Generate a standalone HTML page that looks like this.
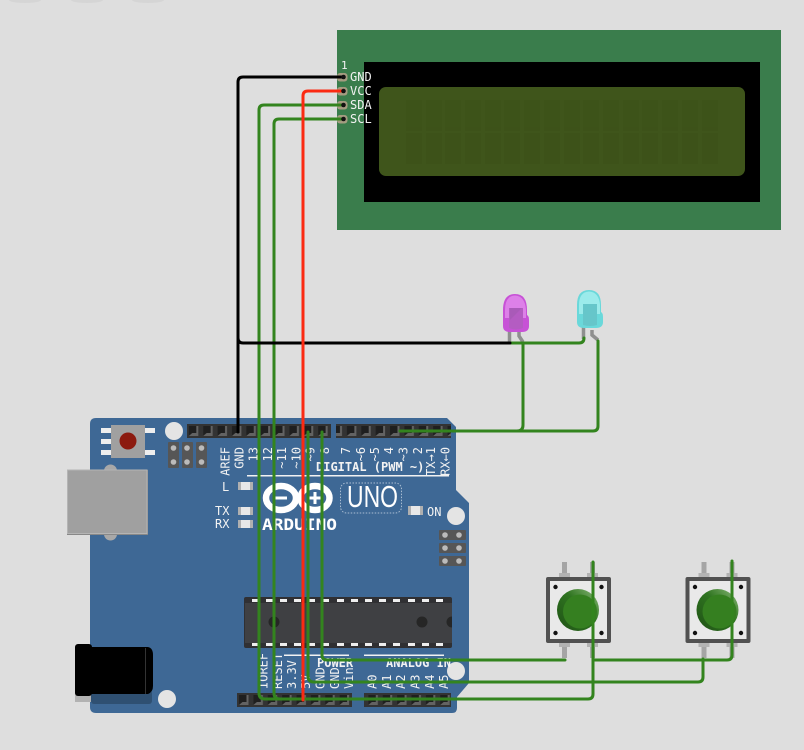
<!DOCTYPE html>
<html><head><meta charset="utf-8"><style>
html,body{margin:0;padding:0;background:#dedede;width:804px;height:750px;overflow:hidden}
svg{display:block}
.m{font-family:"DejaVu Sans Mono","Liberation Mono",monospace;font-size:12px;fill:#f2f2f2}
</style></head><body>
<svg width="804" height="750" viewBox="0 0 804 750" xmlns="http://www.w3.org/2000/svg">
<defs>
<pattern id="hp" x="186.3" y="424" width="14.37" height="14" patternUnits="userSpaceOnUse">
<rect x="2.500" y="2" width="9.500" height="10" fill="#636363"/><rect x="2.500" y="2" width="7.500" height="7" fill="#1f1f1f"/><path d="M2.500 12L6 9H2.500Z" fill="#1f1f1f"/>
</pattern>
<pattern id="hq" x="236.5" y="693" width="14.37" height="14" patternUnits="userSpaceOnUse">
<rect x="2.500" y="2" width="9.500" height="10" fill="#636363"/><rect x="2.500" y="2" width="7.500" height="7" fill="#1f1f1f"/><path d="M2.500 12L6 9H2.500Z" fill="#1f1f1f"/>
</pattern>
<linearGradient id="bg" x1="0.150" y1="0.850" x2="0.850" y2="0.150">
<stop offset="0" stop-color="#235a18"/><stop offset=".6" stop-color="#2f7420"/><stop offset="1" stop-color="#6da35c"/>
</linearGradient>
<g id="btn">
<rect x="16" y="0" width="5" height="15" fill="#a5a5a5"/><rect x="44" y="0" width="5" height="15" fill="#a5a5a5"/>
<rect x="13" y="11" width="11" height="5" fill="#b3b3b3"/><rect x="41" y="11" width="11" height="5" fill="#b3b3b3"/>
<rect x="16" y="80" width="5" height="16" fill="#a5a5a5"/><rect x="44" y="80" width="5" height="16" fill="#a5a5a5"/>
<rect x="13" y="80" width="11" height="5" fill="#b3b3b3"/><rect x="41" y="80" width="11" height="5" fill="#b3b3b3"/>
<rect x="0" y="15" width="65" height="66" rx="2" fill="#515151"/>
<rect x="4" y="19" width="57" height="58" fill="#e9e9e9"/>
<circle cx="9.500" cy="25" r="2.200" fill="#111"/><circle cx="55.500" cy="25" r="2.200" fill="#111"/>
<circle cx="9.500" cy="71" r="2.200" fill="#111"/><circle cx="55.500" cy="71" r="2.200" fill="#111"/>
<circle cx="32" cy="48" r="21" fill="url(#bg)"/>
<circle cx="34" cy="49.500" r="17" fill="#357f20"/>
</g>
</defs>

<g fill="#d5d5d5"><ellipse cx="25" cy="0" rx="16" ry="3"/><ellipse cx="87" cy="0" rx="16" ry="3"/><ellipse cx="148" cy="0" rx="16" ry="3"/></g>

<!-- LCD -->
<rect x="337" y="30" width="444" height="200" fill="#3a7d4c"/>
<rect x="364" y="62" width="396" height="140" fill="#000"/>
<rect x="379" y="87" width="366" height="89" rx="7" fill="#3f551b"/>
<g fill="#3c5119" opacity=".6">
<path d="M406 100h16v31h-16zM426 100h16v31h-16zM445 100h16v31h-16zM465 100h16v31h-16zM485 100h16v31h-16zM504 100h16v31h-16zM524 100h16v31h-16zM544 100h16v31h-16zM564 100h16v31h-16zM583 100h16v31h-16zM603 100h16v31h-16zM623 100h16v31h-16zM642 100h16v31h-16zM662 100h16v31h-16zM682 100h16v31h-16zM702 100h16v31h-16z"/>
<path d="M406 133h16v31h-16zM426 133h16v31h-16zM445 133h16v31h-16zM465 133h16v31h-16zM485 133h16v31h-16zM504 133h16v31h-16zM524 133h16v31h-16zM544 133h16v31h-16zM564 133h16v31h-16zM583 133h16v31h-16zM603 133h16v31h-16zM623 133h16v31h-16zM642 133h16v31h-16zM662 133h16v31h-16zM682 133h16v31h-16zM702 133h16v31h-16z"/>
</g>
<g fill="#a49c80">
<rect x="337" y="73" width="10.500" height="8.500" rx="3"/><rect x="337" y="87" width="10.500" height="8.500" rx="3"/><rect x="337" y="101" width="10.500" height="8.500" rx="3"/><rect x="337" y="115" width="10.500" height="8.500" rx="3"/>
</g>
<text class="m" x="341" y="69" style="font-size:11px">1</text>
<text class="m" x="350" y="81">GND</text><text class="m" x="350" y="95">VCC</text><text class="m" x="350" y="109">SDA</text><text class="m" x="350" y="123">SCL</text>

<!-- Board -->
<path d="M96 418H447L456 427V490L469 503V683L457 697V708Q457 713 452 713H96Q90 713 90 707V424Q90 418 96 418Z" fill="#3e6895"/>
<circle cx="174" cy="431" r="9" fill="#e4e4e4"/><circle cx="167" cy="699" r="9" fill="#e4e4e4"/><circle cx="456" cy="516" r="9" fill="#e4e4e4"/><circle cx="456" cy="671" r="9" fill="#e4e4e4"/>

<!-- reset -->
<g fill="#eeeeee"><rect x="101" y="428" width="10" height="5"/><rect x="101" y="439" width="10" height="5"/><rect x="101" y="450" width="10" height="5"/><rect x="145" y="428" width="10" height="5"/><rect x="145" y="450" width="10" height="5"/></g>
<rect x="111" y="425" width="34" height="33" fill="#a0a0a0"/><circle cx="128" cy="441" r="8.500" fill="#8c1a0f"/>
<!-- ICSP -->
<g fill="#565656"><rect x="168" y="442" width="11" height="26" rx="1"/><rect x="182" y="442" width="11" height="26" rx="1"/><rect x="196" y="442" width="11" height="26" rx="1"/>
<rect x="439" y="530" width="27" height="10" rx="1"/><rect x="439" y="543" width="27" height="10" rx="1"/><rect x="439" y="556" width="27" height="10" rx="1"/></g>
<g fill="#bbbbbb"><circle cx="173.500" cy="448" r="2.800"/><circle cx="173.500" cy="462" r="2.800"/><circle cx="187" cy="448" r="2.800"/><circle cx="187" cy="462" r="2.800"/><circle cx="201.500" cy="448" r="2.800"/><circle cx="201.500" cy="462" r="2.800"/>
<circle cx="445" cy="535" r="2.800"/><circle cx="459" cy="535" r="2.800"/><circle cx="445" cy="548" r="2.800"/><circle cx="459" cy="548" r="2.800"/><circle cx="445" cy="561" r="2.800"/><circle cx="459" cy="561" r="2.800"/></g>
<!-- USB -->
<circle cx="110.500" cy="471" r="6.500" fill="#a8a8a8"/><circle cx="110.500" cy="534" r="6.500" fill="#a8a8a8"/>
<rect x="67" y="470" width="81" height="65" fill="#888"/>
<rect x="67.500" y="470" width="79.500" height="63.500" fill="#a0a0a0" stroke="#b4b4b4"/>
<!-- jack -->
<rect x="75" y="690" width="16" height="12" fill="#b2b2b2"/>
<rect x="91" y="690" width="61" height="14" rx="3" fill="#2f5072"/>
<rect x="75" y="644" width="17" height="52" rx="3" fill="#000"/>
<path d="M90 647H148Q153 648 153 655V686Q153 692 148 694H90Z" fill="#000"/>
<rect x="145" y="648" width="1" height="46" fill="#333"/>
<!-- headers -->
<rect x="187" y="424" width="144" height="14" fill="#333"/><rect x="187" y="424" width="144" height="14" fill="url(#hp)"/>
<rect x="336" y="424" width="115" height="14" fill="#333"/><rect x="336" y="424" width="115" height="14" fill="url(#hp)"/>
<rect x="237" y="693" width="115" height="14" fill="#333"/><rect x="237" y="693" width="115" height="14" fill="url(#hq)"/>
<rect x="364" y="693" width="87" height="14" fill="#333"/><rect x="364" y="693" width="87" height="14" fill="url(#hq)"/>
<!-- top labels -->
<g text-anchor="end">
<text class="m" transform="translate(229.500,447) rotate(-90)">AREF</text>
<text class="m" transform="translate(243.500,447) rotate(-90)">GND</text>
<text class="m" transform="translate(257.500,447) rotate(-90)">13</text>
<text class="m" transform="translate(272,447) rotate(-90)">12</text>
<text class="m" transform="translate(286,447) rotate(-90)">~11</text>
<text class="m" transform="translate(300.500,447) rotate(-90)">~10</text>
<text class="m" transform="translate(314.500,447) rotate(-90)">~9</text>
<text class="m" transform="translate(329,447) rotate(-90)">8</text>
<text class="m" transform="translate(350,447) rotate(-90)">7</text>
<text class="m" transform="translate(365,447) rotate(-90)">~6</text>
<text class="m" transform="translate(379,447) rotate(-90)">~5</text>
<text class="m" transform="translate(393,447) rotate(-90)">4</text>
<text class="m" transform="translate(407.500,447) rotate(-90)">~3</text>
<text class="m" transform="translate(422,447) rotate(-90)">2</text>
<text class="m" transform="translate(435,447) rotate(-90)">TX→1</text>
<text class="m" transform="translate(449.500,447) rotate(-90)">RX←0</text>
</g>
<text class="m" x="316" y="471" style="font-weight:bold">DIGITAL (PWM ~)</text>
<rect x="247" y="475" width="202" height="1.500" fill="#f2f2f2"/>
<text class="m" x="222" y="491">L</text><text class="m" x="215" y="515">TX</text><text class="m" x="215" y="528">RX</text><text class="m" x="427" y="516">ON</text>
<g fill="#e8e8e8"><rect x="238" y="482" width="15" height="8" rx="1"/><rect x="238" y="507" width="15" height="8" rx="1"/><rect x="238" y="520" width="15" height="8" rx="1"/><rect x="408" y="506" width="15" height="9" rx="1"/></g>
<g fill="#b0b0b0"><rect x="238" y="482" width="3" height="8"/><rect x="250" y="482" width="3" height="8"/><rect x="238" y="507" width="3" height="8"/><rect x="250" y="507" width="3" height="8"/><rect x="238" y="520" width="3" height="8"/><rect x="250" y="520" width="3" height="8"/><rect x="408" y="506" width="3" height="9"/><rect x="420" y="506" width="3" height="9"/></g>
<!-- logo -->
<ellipse cx="281" cy="498" rx="15" ry="12" fill="none" stroke="#fff" stroke-width="6.500"/>
<ellipse cx="315" cy="498" rx="14.500" ry="12" fill="none" stroke="#fff" stroke-width="6.500"/>
<rect x="275" y="496.500" width="12" height="3" fill="#fff"/>
<rect x="309" y="496.500" width="12" height="3" fill="#fff"/><rect x="313.500" y="492" width="3" height="12" fill="#fff"/>
<text x="262" y="530" textLength="75" lengthAdjust="spacingAndGlyphs" style="font-family:'DejaVu Sans Mono','Liberation Mono',monospace;font-weight:bold;font-size:16px;fill:#fff">ARDUINO</text>
<rect x="340.500" y="483" width="61" height="30" rx="6" fill="none" stroke="#a9bdd2" stroke-width="1" stroke-dasharray="1.500 1.500"/>
<text x="347" y="507" textLength="51" lengthAdjust="spacingAndGlyphs" style="font-family:'Liberation Sans',sans-serif;font-size:31px;fill:#fff">UNO</text>
<!-- chip -->
<rect x="244" y="597" width="208" height="51" rx="2" fill="#303033"/>
<rect x="245" y="603" width="207" height="40" fill="#3f4043"/>
<circle cx="274" cy="622" r="5.500" fill="#262626"/><circle cx="422" cy="622" r="5.500" fill="#262626"/>
<path d="M452 616.500A5.500 5.500 0 0 0 452 627.500Z" fill="#262626"/>
<g fill="#efefef">
<path d="M252 599h7v3h-7zM266 599h7v3h-7zM280 599h7v3h-7zM294 599h7v3h-7zM308 599h7v3h-7zM322 599h7v3h-7zM337 599h7v3h-7zM351 599h7v3h-7zM365 599h7v3h-7zM379 599h7v3h-7zM393 599h7v3h-7zM408 599h7v3h-7zM422 599h7v3h-7zM436 599h7v3h-7z"/>
<path d="M252 643h7v3h-7zM266 643h7v3h-7zM280 643h7v3h-7zM294 643h7v3h-7zM308 643h7v3h-7zM322 643h7v3h-7zM337 643h7v3h-7zM351 643h7v3h-7zM365 643h7v3h-7zM379 643h7v3h-7zM393 643h7v3h-7zM408 643h7v3h-7zM422 643h7v3h-7zM436 643h7v3h-7z"/>
</g>
<rect x="284" y="654.500" width="65" height="1.500" fill="#f2f2f2"/><rect x="364" y="654.500" width="80" height="1.500" fill="#f2f2f2"/>
<text class="m" x="317" y="667" style="font-weight:bold">POWER</text>
<text class="m" x="386" y="667" style="font-weight:bold">ANALOG IN</text>
<!-- bottom labels -->
<g>
<text class="m" transform="translate(267.500,689) rotate(-90)">IOREF</text>
<text class="m" transform="translate(282,689) rotate(-90)">RESET</text>
<text class="m" transform="translate(296,689) rotate(-90)">3.3V</text>
<text class="m" transform="translate(310,689) rotate(-90)">5V</text>
<text class="m" transform="translate(324.500,689) rotate(-90)">GND</text>
<text class="m" transform="translate(339,689) rotate(-90)">GND</text>
<text class="m" transform="translate(353,689) rotate(-90)">Vin</text>
<text class="m" transform="translate(376.500,689) rotate(-90)">A0</text>
<text class="m" transform="translate(391,689) rotate(-90)">A1</text>
<text class="m" transform="translate(405,689) rotate(-90)">A2</text>
<text class="m" transform="translate(419.500,689) rotate(-90)">A3</text>
<text class="m" transform="translate(434,689) rotate(-90)">A4</text>
<text class="m" transform="translate(448,689) rotate(-90)">A5</text>
</g>

<!-- buttons -->
<use href="#btn" x="546" y="562"/>
<use href="#btn" x="685.500" y="562"/>

<!-- LEDs -->
<g fill="none" stroke="#8f8f8f" stroke-width="3.500">
<path d="M509.500 328V342"/><path d="M519 330V336L523 342"/>
<path d="M583.500 325V339"/><path d="M592 330V335L598 340"/>
</g>
<path d="M503 310Q503 294 515 294Q527 294 527 310V315Q529 316 529 320V326Q529 332 522 332H510Q503 332 503 326Z" fill="#c752d6"/>
<path d="M505 310Q505 296 515 295.500Q525 296 526 310V318H505Z" fill="#dd80e8"/>
<path d="M509 308H523V328Q516 331 509 328Z" fill="#b45cc2"/>
<path d="M510 308H522L510 320Z" fill="#a95ab8"/>
<path d="M577 305Q577 290 589 290Q601 290 601 305V312Q603 313 603 317V322Q603 328 596 328H584Q577 328 577 322Z" fill="#6ad8da"/>
<path d="M579 305Q579 292 589 291.500Q599 292 600 305V314H579Z" fill="#9bebeb"/>
<path d="M583 304H597V325Q590 327 583 325Z" fill="#66c6ca"/>

<!-- wires -->
<g fill="none" stroke-width="3" stroke-linecap="round" stroke-linejoin="round">
<g stroke="#33841e">
<path d="M343 105H264Q259 105 259 110V693Q259 699 265 699H588Q593 699 593 694V562"/>
<path d="M343 119H279Q274 119 274 124V693Q274 699 280 699H300"/>
<path d="M322 432V655Q322 660 327 660H565"/>
<path d="M308 432V676Q308 682 314 682H698Q703 682 703 677V659"/>
<path d="M593 660H727Q732 660 732 655V561"/>
<path d="M510 343H579Q584 343 584 338"/>
<path d="M523 343V425Q523 431 517 431H400"/>
<path d="M598 341V426Q598 431 593 431H400"/>
</g>
<g stroke="#000">
<path d="M343 77H243Q238 77 238 82V432"/>
<path d="M238 338Q238 343 243 343H510"/>
</g>
<path d="M343 91H308Q303 91 303 96V700" stroke="#fb2a12"/>
</g>
<g fill="#111"><circle cx="343.500" cy="77" r="2.300"/><circle cx="343.500" cy="91" r="2.300"/><circle cx="343.500" cy="105" r="2.300"/><circle cx="343.500" cy="119" r="2.300"/></g>
</svg>
</body></html>
